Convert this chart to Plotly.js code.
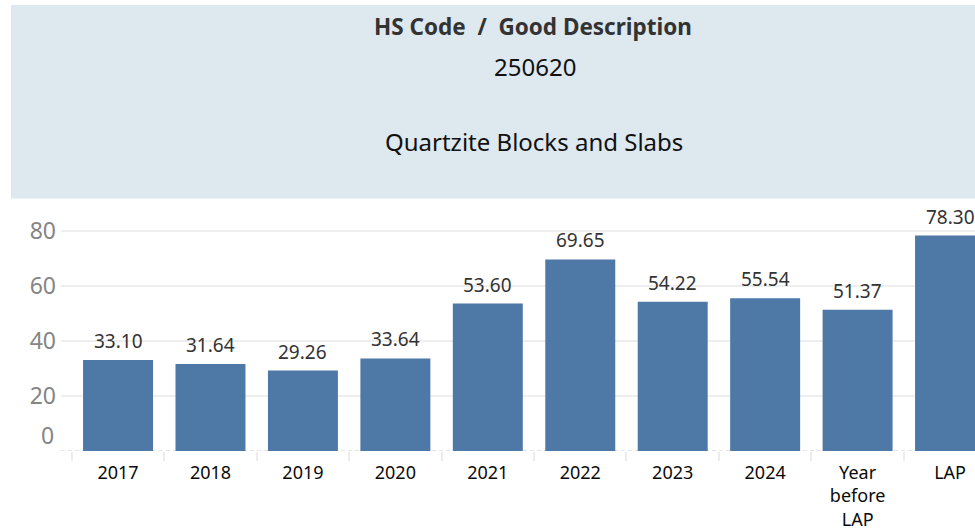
<!DOCTYPE html>
<html>
<head>
<meta charset="utf-8">
<script src="https://cdn.plot.ly/plotly-3.0.1.min.js"></script>
<style>
  html, body { margin: 0; padding: 0; background: #ffffff; }
  #chart { width: 975px; height: 531px; }
</style>
</head>
<body>
<div id="chart"></div>
<script>
// ---- Data ----
const categories = ["2017", "2018", "2019", "2020", "2021", "2022", "2023", "2024", "Year<br>before<br>LAP", "LAP"];
const values = [33.10, 31.64, 29.26, 33.64, 53.60, 69.65, 54.22, 55.54, 51.37, 78.30];
const yTickValues = [20, 40, 60, 80];
const yTickLabels = ["20", "40", "60", "80"];
const headerTitle = "HS Code  /  Good Description";
const hsCode = "250620";
const goodDescription = "Quartzite Blocks and Slabs";

const FONT = "Noto Sans, DejaVu Sans, sans-serif";

const trace = {
  type: "bar",
  x: categories,
  y: values,
  marker: { color: "#4e79a7" },
  hoverinfo: "skip",
  showlegend: false
};

// value labels above the bars (x given as category index)
const valueLabels = values.map((v, i) => ({
  x: i, y: v, xref: "x", yref: "y",
  text: v.toFixed(2),
  showarrow: false, yanchor: "middle", yshift: 19,
  font: { family: FONT, size: 19, color: "#333333" }
}));

const layout = {
  width: 975, height: 531,
  margin: { l: 61, r: 0, t: 199, b: 80, pad: 0 },
  paper_bgcolor: "#ffffff",
  plot_bgcolor: "#ffffff",
  bargap: 0.243,
  title: {
    text: headerTitle,
    x: 533 / 975, xanchor: "center", xref: "container",
    y: 1 - 27 / 531, yanchor: "middle", yref: "container",
    font: { family: FONT, size: 22.5, color: "#333333", weight: 700 }
  },
  xaxis: {
    type: "category",
    range: [-0.617, 9.27],
    tickson: "boundaries",
    ticks: "outside", ticklen: 9, tickwidth: 2, tickcolor: "#ececec",
    ticklabelstandoff: 9,
    showgrid: false, zeroline: false, showline: false,
    tickfont: { family: FONT, size: 18, color: "#0a0a0a" },
    automargin: false, fixedrange: true
  },
  yaxis: {
    range: [0, 91.6],
    tickvals: yTickValues, ticktext: yTickLabels,
    ticks: "", ticklabelstandoff: 4,
    showgrid: true, gridcolor: "#eeeeee", gridwidth: 1.5,
    zeroline: false, showline: false,
    tickfont: { family: FONT, size: 23, color: "#858585" },
    automargin: false, fixedrange: true
  },
  shapes: [
    { type: "rect", xref: "paper", yref: "paper", layer: "below",
      x0: (11 - 61) / 914, x1: 1.0,
      y0: (451 - 198.5) / 252, y1: (451 - 5) / 252,
      fillcolor: "#dde8ef", line: { width: 0 } },
    { type: "line", xref: "paper", yref: "y", layer: "below",
      x0: 0, x1: 1, y0: 0, y1: 0,
      line: { color: "#cccccc", width: 1.2, dash: "4px,3px" } }
  ],
  annotations: [
    { text: "0", xref: "paper", yref: "y", x: 0, y: 0, xanchor: "right", yanchor: "middle",
      xshift: -5, yshift: 16, showarrow: false,
      font: { family: FONT, size: 23, color: "#858585" } },
    { text: hsCode, xref: "paper", yref: "paper", x: (535 - 61) / 914, y: (451 - 66) / 252,
      xanchor: "center", yanchor: "middle", showarrow: false,
      font: { family: FONT, size: 24, color: "#111111" } },
    { text: goodDescription, xref: "paper", yref: "paper", x: (534 - 61) / 914, y: (451 - 142) / 252,
      xanchor: "center", yanchor: "middle", showarrow: false,
      font: { family: FONT, size: 24, color: "#111111" } }
  ].concat(valueLabels)
};

Plotly.newPlot("chart", [trace], layout, { displayModeBar: false, staticPlot: true });
</script>
</body>
</html>
